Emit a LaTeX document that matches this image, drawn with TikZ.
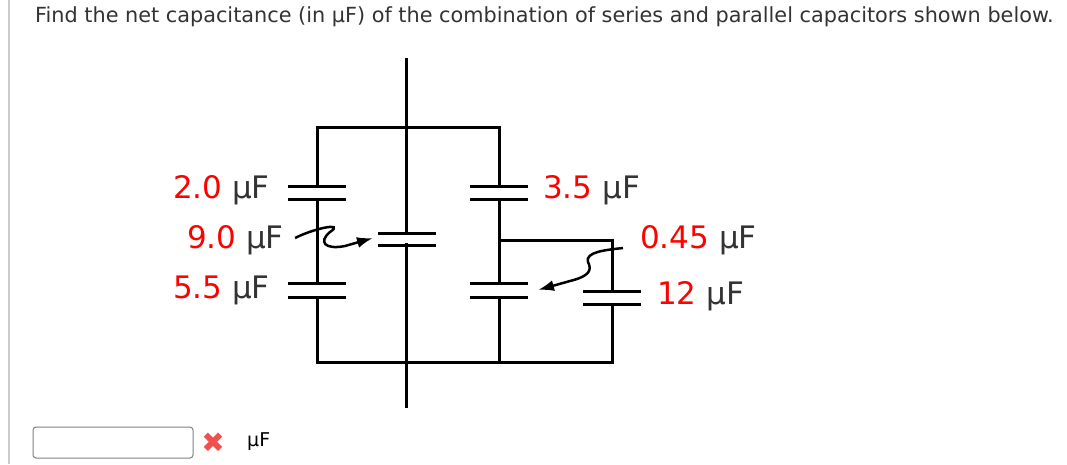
\documentclass[tikz,border=0pt]{standalone}
\usepackage{fontspec}
\setmainfont{DejaVu Sans}
\usetikzlibrary{arrows.meta}
\definecolor{txt}{RGB}{51,51,51}
\definecolor{xred}{RGB}{240,80,80}
\begin{document}
\begin{tikzpicture}[x=1pt,y=-1pt,
  wire/.style={line width=3pt},
  plate/.style={line width=3pt},
  lab/.style={font=\fontsize{31}{33}\selectfont,text=txt,inner sep=0pt},
  sq/.style={line width=2.5pt,-{Latex[length=16pt,width=11pt]}}]
\useasboundingbox (0,0) rectangle (1067,464);
\fill[white] (0,0) rectangle (1067,464);
\draw[gray!40,line width=1.5pt] (9,0) -- (9,464);
\node[anchor=west,inner sep=0pt,text=txt,font=\fontsize{20.8}{23}\selectfont] (q) at (35,17) {Find the net capacitance (in μF) of the combination of series and parallel capacitors shown below.};
% wires
\coordinate (t0) at (406,58); \coordinate (b0) at (406,408);
\draw[wire] (t0) -- (b0);
\draw[wire] (317,186) -- (317,127) -- (499,127) -- (499,186);
\draw[wire] (317,199) -- (317,283);
\draw[wire] (317,297) -- (317,362) -- (612,362) -- (612,304);
\draw[wire] (499,199) -- (499,283);
\draw[wire] (499,297) -- (499,362);
\draw[wire] (499,240) -- (612,240) -- (612,291);
% gap for middle cap
\fill[white] (395,235) rectangle (417,243);
% plates
\foreach \x/\y in {317/186,317/199,317/283,317/297,499/186,499/199,499/283,499/297,407/233,407/245,612/291,612/304}
  \draw[plate] (\x-29,\y) -- (\x+29,\y);
% squiggle arrows
\draw[sq] (295,238) .. controls (315,228) and (345,222) .. (330,232) .. controls (318,242) and (325,250) .. (345,246) -- (373,238);
\draw[sq] (623,248) .. controls (605,250) and (585,252) .. (588,262) .. controls (592,270) and (590,276) .. (570,281) -- (538,290);
% labels
\node[lab,anchor=east] (l1) at (270,190) {\textcolor{red}{2.0} μF};
\node[lab,anchor=east] (l2) at (284,240) {\textcolor{red}{9.0} μF};
\node[lab,anchor=east] (l3) at (270,290) {\textcolor{red}{5.5} μF};
\node[lab,anchor=west] (l4) at (543,190) {\textcolor{red}{3.5} μF};
\node[lab,anchor=west] (l5) at (640,240) {\textcolor{red}{0.45} μF};
\node[lab,anchor=west] (l6) at (657,296) {\textcolor{red}{12} μF};
% answer box
\draw[gray,line width=1pt,rounded corners=3pt] (33,427) rectangle (193,458);
\node[text=xred,font=\fontsize{28}{30}\selectfont\bfseries,inner sep=0pt] (x) at (213,443) {✖};
\node[anchor=west,inner sep=0pt,text=black,font=\fontsize{19}{21}\selectfont] (u) at (247,442) {μF};
\end{tikzpicture}
\end{document}
